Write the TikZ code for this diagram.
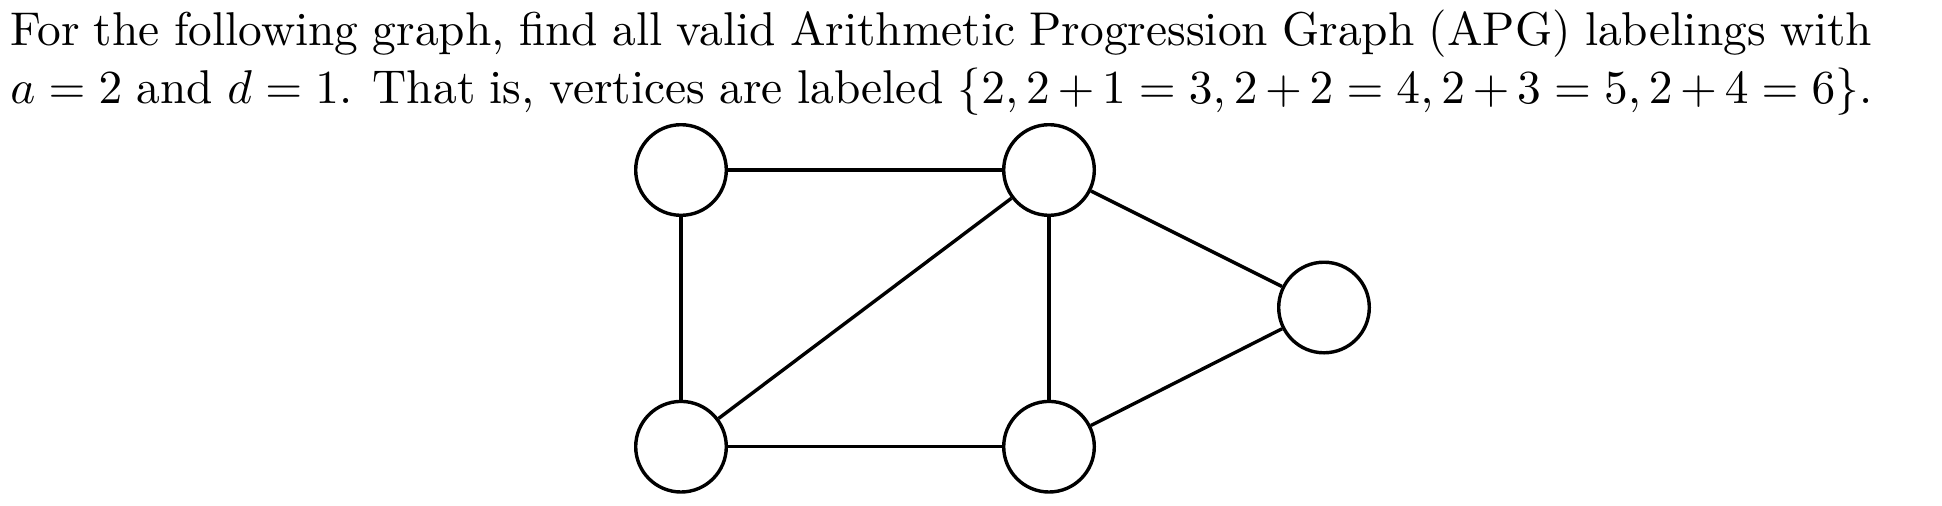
\documentclass[tikz,border=0pt]{standalone}
\begin{document}
\begin{tikzpicture}[x=0.5pt,y=-0.5pt,
  vert/.style={circle,draw,line width=1.7pt,minimum size=45.3pt,inner sep=0pt},
  edge/.style={line width=1.7pt},
  txt/.style={anchor=base west,inner sep=0pt}]
\useasboundingbox (0,0) rectangle (1942,505);
\node[txt] (l1) at (10,45) {\scalebox{2.37}{\fontsize{10}{12}\selectfont\hbox to 392.8pt{For the following graph, find all valid Arithmetic Progression Graph (APG) labelings with}}};
\node[txt] (l2) at (10,103) {\scalebox{2.37}{\fontsize{10}{12}\selectfont\hbox to 392.8pt{$a=2$ and $d=1$. That is, vertices are labeled $\{2,2+1=3,2+2=4,2+3=5,2+4=6\}$.}}};
\node[vert] (tl) at (681,170) {};
\node[vert] (tm) at (1049,170) {};
\node[vert] (r) at (1324,307.5) {};
\node[vert] (bl) at (681,446.7) {};
\node[vert] (bm) at (1049,446.7) {};
\draw[edge] (tl) -- (tm);
\draw[edge] (tl) -- (bl);
\draw[edge] (bl) -- (tm);
\draw[edge] (bl) -- (bm);
\draw[edge] (tm) -- (bm);
\draw[edge] (tm) -- (r);
\draw[edge] (bm) -- (r);
\end{tikzpicture}
\end{document}
